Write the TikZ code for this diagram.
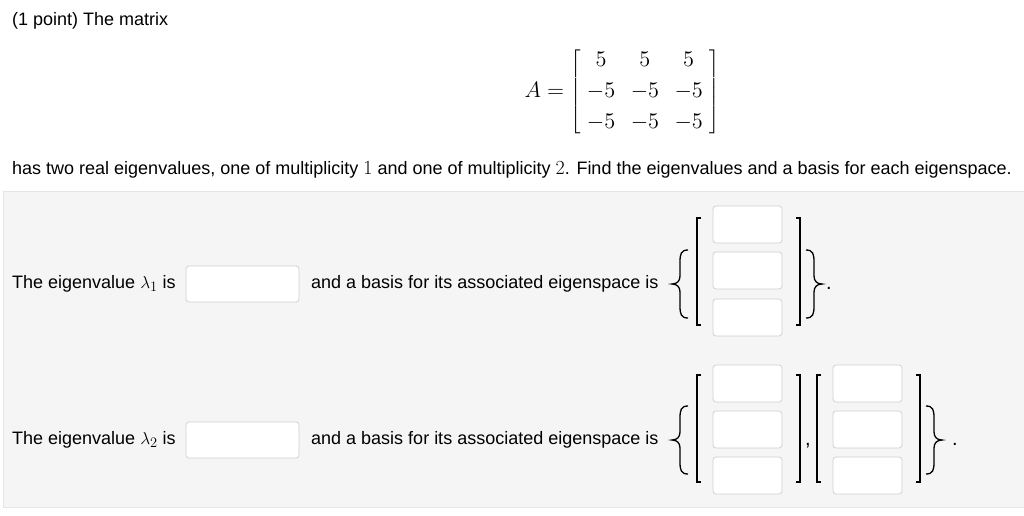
\documentclass[tikz,border=0pt]{standalone}
\usepackage{fontspec}
\setsansfont{Liberation Sans}
\tikzset{
 txt/.style={font=\sffamily\fontsize{18}{21}\selectfont, inner sep=0pt, anchor=west},
 inbox/.style={draw=black!18, fill=white, rounded corners=3pt, line width=0.8pt},
 brk/.style={line width=1.1pt},
 bracepath/.style={line width=1.3pt},
 dotnode/.style={inner sep=0pt, font=\sffamily\fontsize{20}{21}\selectfont},
}
\newcommand{\lbr}[2]{% x of tip, y centre
 \draw[bracepath] (#1+16,#2-34) .. controls (#1+9,#2-34) and (#1+8,#2-30) .. (#1+8,#2-22) -- (#1+8,#2-8) .. controls (#1+8,#2-3) and (#1+5,#2) .. (#1,#2) .. controls (#1+5,#2) and (#1+8,#2+3) .. (#1+8,#2+8) -- (#1+8,#2+22) .. controls (#1+8,#2+30) and (#1+9,#2+34) .. (#1+16,#2+34);}
\newcommand{\rbr}[2]{% x of tip, y centre
 \draw[bracepath] (#1-16,#2-34) .. controls (#1-9,#2-34) and (#1-8,#2-30) .. (#1-8,#2-22) -- (#1-8,#2-8) .. controls (#1-8,#2-3) and (#1-5,#2) .. (#1,#2) .. controls (#1-5,#2) and (#1-8,#2+3) .. (#1-8,#2+8) -- (#1-8,#2+22) .. controls (#1-8,#2+30) and (#1-9,#2+34) .. (#1-16,#2+34);}
\begin{document}
\begin{tikzpicture}[x=1pt,y=-1pt]
\useasboundingbox (0,0) rectangle (1024,515);
\fill[white] (0,0) rectangle (1024,515);
\draw[fill=black!4, draw=black!10] (3,191) rectangle (1030,507);
\node[txt] (t1) at (12,21) {(1 point) The matrix};
\node[inner sep=0pt, scale=1.55] (m) at (622,92) {\fontsize{15}{18}\selectfont$A=\left[\begin{array}{@{\;}ccc@{\;}}5&5&5\\[2pt]-5&-5&-5\\[2pt]-5&-5&-5\end{array}\right]$};
\node[txt] (t2) at (12,170) {has two real eigenvalues, one of multiplicity {\rmfamily\fontsize{20}{21}\selectfont 1} and one of multiplicity {\rmfamily\fontsize{20}{21}\selectfont 2}. Find the eigenvalues and a basis for each eigenspace.};
% row 1
\node[txt] (r1a) at (12,284) {The eigenvalue {\fontsize{19}{21}\selectfont$\lambda_1$} is};
\draw[inbox] (186,266) rectangle (299,302);
\node[txt] (r1b) at (311,284) {and a basis for its associated eigenspace is};
\lbr{672}{284}
\draw[brk] (701,218) -- (697,218) -- (697,325) -- (701,325);
\draw[brk] (796,218) -- (800,218) -- (800,325) -- (796,325);
\foreach \y in {206,252,299} \draw[inbox] (713,\y) rectangle (782,\y+37);
\rbr{822}{284}
\node[dotnode] (d1) at (829,288) {.};
% row 2
\node[txt] (r2a) at (12,440) {The eigenvalue {\fontsize{19}{21}\selectfont$\lambda_2$} is};
\draw[inbox] (186,422) rectangle (299,458);
\node[txt] (r2b) at (311,440) {and a basis for its associated eigenspace is};
\lbr{672}{440}
\draw[brk] (701,375) -- (697,375) -- (697,482) -- (701,482);
\draw[brk] (796,375) -- (800,375) -- (800,482) -- (796,482);
\foreach \y in {365,411,457} \draw[inbox] (713,\y) rectangle (782,\y+37);
\node[dotnode] (c2) at (808,446) {,};
\draw[brk] (821,375) -- (817,375) -- (817,482) -- (821,482);
\draw[brk] (916,375) -- (920,375) -- (920,482) -- (916,482);
\foreach \y in {365,411,457} \draw[inbox] (833,\y) rectangle (902,\y+37);
\rbr{942}{440}
\node[dotnode] (d2) at (955,444) {.};
\end{tikzpicture}
\end{document}
